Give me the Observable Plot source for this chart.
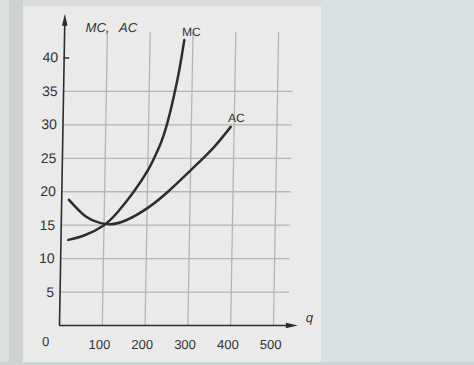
<!DOCTYPE html>
<html>
<head>
<meta charset="utf-8">
<script src="https://cdn.jsdelivr.net/npm/d3@7"></script>
<script src="https://cdn.jsdelivr.net/npm/@observablehq/plot@0.6"></script>
<style>
  html, body { margin: 0; padding: 0; }
  #page { position: relative; width: 474px; height: 365px; overflow: hidden; background: #d9e0e3; }
  .bg { position: absolute; }
  #chart { position: absolute; left: 0; top: 0; }
</style>
</head>
<body>
<div id="page">
  <div class="bg" style="left:0;top:0;width:9px;height:365px;background:#dddfdf"></div>
  <div class="bg" style="left:9px;top:0;width:14px;height:365px;background:#cfd2d2"></div>
  <div class="bg" style="left:23px;top:0;width:298px;height:6px;background:#d8dbdb"></div>
  <div class="bg" style="left:23px;top:6px;width:298px;height:356px;background:#eaeaea"></div>
  <div class="bg" style="left:0;top:362px;width:474px;height:3px;background:#cfd4d4"></div>
  <div id="chart"></div>
</div>
<script>
// ---- data ----
const xTicks = [100, 200, 300, 400, 500];
const yTicks = [5, 10, 15, 20, 25, 30, 35, 40];
const yGrid = [5, 10, 15, 20, 25, 30, 35];
const originLabel = ["0"];
const yAxisTitle = "MC,\u2002 AC";
const xAxisTitle = "q";
const curveNames = ["MC", "AC"];

const mcQ = [17, 55, 100, 132, 168, 200, 214, 230, 245, 258, 270, 280];
const mcV = [12.8, 13.5, 15.0, 17.0, 20.0, 23.2, 25.0, 27.4, 30.6, 34.3, 38.4, 42.7];
const acQ = [17, 57, 90, 115, 150, 204, 253, 300, 350, 392];
const acV = [18.8, 16.3, 15.35, 15.15, 15.7, 17.7, 20.3, 23.2, 26.4, 29.7];

// axis extents (data units)
const xAxisEnd = 557;
const yAxisEnd = 46.6;
const gridTopV = 43.8;
const gridRightQ = 536;

const mc = mcQ.map((q, i) => ({q, v: mcV[i]}));
const ac = acQ.map((q, i) => ({q, v: acV[i]}));

const arrowSym = {
  draw(ctx) {
    ctx.moveTo(5.5, 0);
    ctx.lineTo(-6.5, -2.8);
    ctx.lineTo(-6.5, 2.8);
    ctx.closePath();
  }
};

const ink = "#2d2d2d";
const grid = "#b5b5b5";

const chart = Plot.plot({
  width: 474,
  height: 365,
  marginLeft: 59,
  marginRight: 201,
  marginTop: 57.5,
  marginBottom: 40,
  x: {domain: [0, 500]},
  y: {domain: [0, 40]},
  style: {background: "transparent", color: "#333", fontFamily: "'Liberation Sans', Arial, sans-serif", overflow: "visible"},
  marks: [
    // grid
    Plot.ruleX(xTicks, {x: d => d, y1: 0, y2: gridTopV, stroke: grid, strokeWidth: 1.3}),
    Plot.ruleY(yGrid, {y: d => d, x1: 0, x2: gridRightQ, stroke: grid, strokeWidth: 1.3}),
    // short tick at top value
    Plot.ruleY(yTicks.slice(-1), {y: d => d, x1: 0, x2: 13, stroke: ink, strokeWidth: 1.3}),
    // axes lines
    Plot.ruleY([0], {x1: 0, x2: xAxisEnd - 14, stroke: ink, strokeWidth: 1.6}),
    Plot.ruleX([0], {y1: 0, y2: yAxisEnd - 1.5, stroke: ink, strokeWidth: 1.6}),
    Plot.dot([0], {x: xAxisEnd, y: 0, dx: -5.5, symbol: arrowSym, fill: ink, stroke: "none", r: 4}),
    Plot.dot([0], {x: 0, y: yAxisEnd, dy: 5.5, symbol: arrowSym, fill: ink, stroke: "none", r: 4, rotate: -90}),
    // tick labels
    Plot.axisX(xTicks, {tickSize: 0, tickPadding: 14, dx: -2.5, fontSize: 13, label: null}),
    Plot.axisY(yTicks, {tickSize: 0, tickPadding: 6, fontSize: 14, label: null}),
    Plot.text(originLabel, {x: 0, y: 0, text: d => d, dx: -13.5, dy: 16, fontSize: 13}),
    // axis titles
    Plot.text([yAxisTitle], {frameAnchor: "top-left", text: d => d, dx: 21, dy: -35, textAnchor: "start", fontSize: 13, fontStyle: "italic"}),
    Plot.text([xAxisTitle], {frameAnchor: "bottom-right", text: d => d, dx: 39.5, dy: -3.7, fontSize: 13, fontStyle: "italic"}),
    // curves
    Plot.line(mc, {x: "q", y: "v", curve: "natural", stroke: ink, strokeWidth: 2.5}),
    Plot.line(ac, {x: "q", y: "v", curve: "natural", stroke: ink, strokeWidth: 2.5}),
    Plot.text(mc, Plot.selectLast({x: "q", y: "v", text: () => curveNames[0], dx: 7, dy: -8, fontSize: 12})),
    Plot.text(ac, Plot.selectLast({x: "q", y: "v", text: () => curveNames[1], dx: 5.5, dy: -8.5, fontSize: 12}))
  ]
});
chart.style.transformOrigin = "0 325px";
chart.style.transform = "skewX(-1deg)";
document.getElementById("chart").appendChild(chart);
</script>
</body>
</html>
